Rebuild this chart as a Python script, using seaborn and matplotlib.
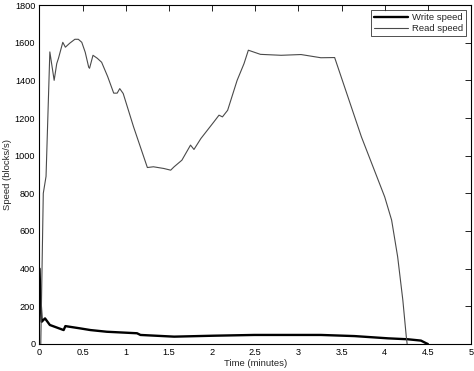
import matplotlib
matplotlib.use("Agg")
import matplotlib.pyplot as plt
import seaborn as sns
import pandas as pd

read_time = [0.015, 0.044, 0.076, 0.12, 0.17, 0.2, 0.22, 0.27, 0.3, 0.35, 0.41, 0.45, 0.49,
             0.53, 0.57, 0.58, 0.62, 0.67, 0.72, 0.79, 0.86, 0.9, 0.93, 0.97, 1.09, 1.25,
             1.32, 1.44, 1.52, 1.56, 1.65, 1.75, 1.79, 1.87, 2.02, 2.08, 2.12, 2.18, 2.29,
             2.37, 2.42, 2.56, 2.8, 3.03, 3.26, 3.42, 3.73, 4.0, 4.08, 4.15, 4.21, 4.25, 4.26]
read_speed = [0, 800, 890, 1551, 1400, 1489, 1517, 1602, 1576, 1597, 1618, 1618, 1602,
              1549, 1470, 1464, 1533, 1517, 1496, 1420, 1332, 1332, 1356, 1330, 1153, 937,
              941, 932, 923, 941, 976, 1056, 1033, 1091, 1179, 1215, 1206, 1241, 1400,
              1489, 1560, 1538, 1533, 1537, 1520, 1521, 1100, 781, 658, 463, 233, 39, 0]

write_time = [0, 0.01, 0.025, 0.064, 0.12, 0.28, 0.30, 0.47, 0.59, 0.78, 1.13, 1.17, 1.56,
              2.02, 2.49, 3.26, 3.65, 4.04, 4.27, 4.42, 4.48, 4.5]
write_speed = [400, 250, 118, 136, 101, 74, 95, 83, 74, 65, 57, 48, 39,
               44, 48, 48, 42, 30, 25, 18, 4, 0]

x_ticks = [0, 0.5, 1, 1.5, 2, 2.5, 3, 3.5, 4, 4.5, 5]
y_ticks = [0, 200, 400, 600, 800, 1000, 1200, 1400, 1600, 1800]

sns.set_style("white")
plt.rcParams['font.family'] = ['Liberation Sans', 'DejaVu Sans']

fig = plt.figure(figsize=(4.74, 3.71), dpi=100)
ax = fig.add_axes([0.0833, 0.0728, 0.9104, 0.9137])

wdf = pd.DataFrame({"t": write_time, "v": write_speed})
rdf = pd.DataFrame({"t": read_time, "v": read_speed})
sns.lineplot(data=wdf, x="t", y="v", ax=ax, color="black", linewidth=1.7,
             label="Write speed", sort=False)
sns.lineplot(data=rdf, x="t", y="v", ax=ax, color="#4a4a4a", linewidth=0.8,
             label="Read speed", sort=False)

ax.set_xlim(0, 5)
ax.set_ylim(0, 1800)
ax.set_xticks(x_ticks)
ax.set_xticklabels([f"{t:g}" for t in x_ticks])
ax.set_yticks(y_ticks)
ax.set_xlabel("Time (minutes)", fontsize=6.8, labelpad=1.5)
ax.set_ylabel("Speed (blocks/s)", fontsize=6.8, labelpad=2)
ax.tick_params(direction="in", length=4, width=0.6, top=True, right=True,
               labelsize=6.6, colors="black", pad=3)
for s in ax.spines.values():
    s.set_color("black")
    s.set_linewidth(0.8)

leg = ax.legend(loc="upper right", frameon=True, fancybox=False, fontsize=6.8,
                borderpad=0.35, labelspacing=0.2, handlelength=3.6, handletextpad=0.4,
                borderaxespad=0.5)
leg.get_frame().set_edgecolor("black")
leg.get_frame().set_linewidth(0.6)

fig.savefig("out.png", dpi=100)
